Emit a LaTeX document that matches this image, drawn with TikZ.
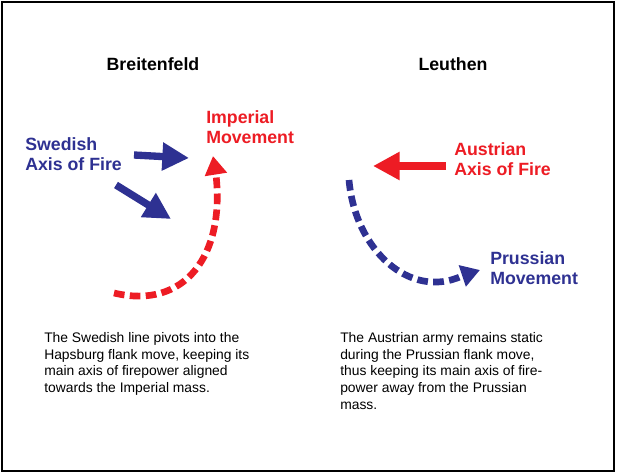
\documentclass[tikz,border=0pt]{standalone}
\usepackage{fontspec}
\setmainfont{Liberation Sans}
\usetikzlibrary{arrows.meta}
\definecolor{blu}{RGB}{46,49,146}
\definecolor{rd}{RGB}{237,28,36}
\begin{document}
\begin{tikzpicture}[x=0.75pt,y=-0.75pt,
  lab/.style={font=\bfseries\fontsize{13.3}{15}\selectfont,align=left,anchor=north west,inner sep=0pt},
  ttl/.style={font=\bfseries\fontsize{13.3}{15}\selectfont},
  body/.style={font=\fontsize{10.4}{12.6}\selectfont,align=left,anchor=north west,inner sep=0pt},
  solidarr/.style={line width=5.5pt,-{Triangle[length=20pt,width=20pt]}},
  dasharr/.style={line width=5pt,dash pattern=on 8pt off 4pt,-{Triangle[length=14pt,width=16pt]}}]
\useasboundingbox (0,0) rectangle (618,474);
\fill[white] (0,0) rectangle (618,474);
\draw[line width=2pt] (2,2) rectangle (614,471);
\node[ttl] (t1) at (153,64) {Breitenfeld};
\node[ttl] (t2) at (453,64) {Leuthen};
\node[lab,text=blu] (sw) at (25,137) {Swedish\\Axis of Fire};
\node[lab,text=rd] (im) at (206,110) {Imperial\\Movement};
\node[lab,text=rd] (au) at (454,142) {Austrian\\Axis of Fire};
\node[lab,text=blu] (pr) at (490,251) {Prussian\\Movement};
\coordinate (a1s) at (134,155); \coordinate (a1e) at (189,158);
\coordinate (a2s) at (116,185); \coordinate (a2e) at (171,219);
\draw[blu,solidarr] (a1s) -- (a1e);
\draw[blu,solidarr] (a2s) -- (a2e);
\coordinate (c1s) at (114,293); \coordinate (c1e) at (213,156);
\draw[rd,dasharr] (c1s) .. controls (185,310) and (225,255) .. (216,175) -- (c1e);
\coordinate (a3s) at (446,166); \coordinate (a3e) at (373,166);
\draw[rd,solidarr] (a3s) -- (a3e);
\coordinate (c2s) at (349,180); \coordinate (c2e) at (480,270);
\draw[blu,dasharr] (c2s) .. controls (355,250) and (410,300) .. (462,276) -- (c2e);
\node[body] (b1) at (44,332) {The Swedish line pivots into the\\Hapsburg flank move, keeping its\\main axis of firepower aligned\\towards the Imperial mass.};
\node[body] (b2) at (340,332) {The Austrian army remains static\\during the Prussian flank move,\\thus keeping its main axis of fire-\\power away from the Prussian\\mass.};
\end{tikzpicture}
\end{document}
